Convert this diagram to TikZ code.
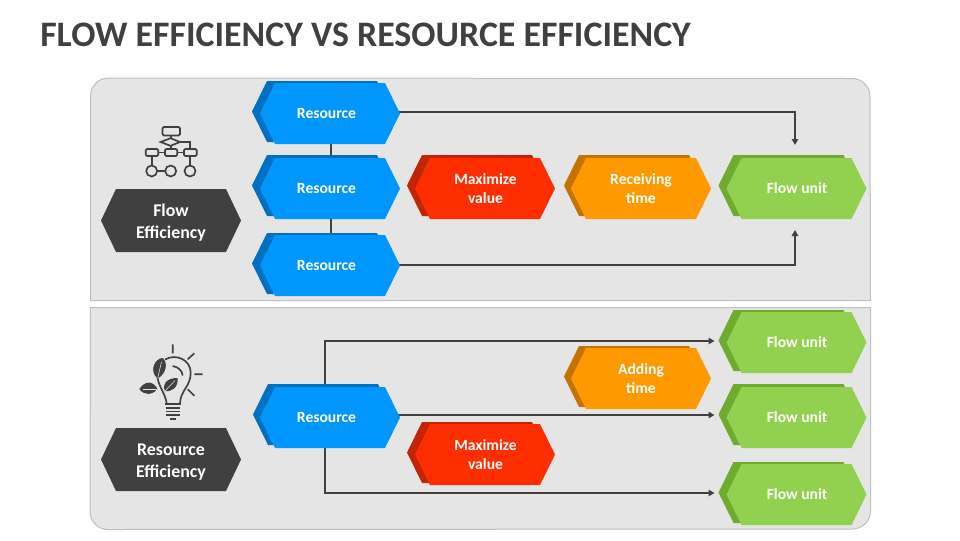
\documentclass[tikz,border=0pt]{standalone}
\usepackage{fontspec}
\setmainfont{Carlito}
\usetikzlibrary{arrows.meta}
\definecolor{panel}{HTML}{E5E5E5}
\definecolor{panelline}{HTML}{BFBFBF}
\definecolor{ink}{HTML}{404040}
\definecolor{blueF}{HTML}{0096FF}
\definecolor{blueB}{HTML}{0070C0}
\definecolor{redF}{HTML}{FF2E00}
\definecolor{redB}{HTML}{C02505}
\definecolor{orF}{HTML}{FF9900}
\definecolor{orB}{HTML}{C47300}
\definecolor{grF}{HTML}{92D050}
\definecolor{grB}{HTML}{6FAB2F}
\pgfdeclarelayer{panels}
\pgfdeclarelayer{lines}
\pgfsetlayers{panels,lines,main}
\tikzset{
  x=0.75pt,y=-0.75pt,
  lab/.style={rectangle,minimum width=105pt,minimum height=45.75pt,inner sep=0pt,text=white,align=center,font=\fontsize{11.7pt}{14.4pt}\selectfont\bfseries},
  labdark/.style={lab,font=\fontsize{13.4pt}{16pt}\selectfont\bfseries},
  flowline/.style={draw=ink,line width=1.6pt},
  arrowline/.style={flowline,-{Triangle[length=4.5pt,width=4.8pt]}},
  panelbox/.style={fill=panel,draw=panelline,line width=0.75pt},
  icon/.style={draw=ink,line width=1.25pt,fill=none},
  iconfill/.style={fill=ink,draw=none},
  vein/.style={draw=panel,line width=0.4pt}
}
\newcommand{\rsc}{\raisebox{-0.6pt}{Resource}}
% \hexa{name}{cx}{cy}{front}{back}{dx}{dy}{text dx}{text}
\newcommand{\hexa}[9]{%
  \fill[#5] (#2-70+#6,#3+#7) -- (#2-55+#6,#3-30.5+#7) -- (#2+55+#6,#3-30.5+#7) -- (#2+70+#6,#3+#7) -- (#2+55+#6,#3+30.5+#7) -- (#2-55+#6,#3+30.5+#7) -- cycle;
  \fill[#4] (#2-70,#3) -- (#2-55,#3-30.5) -- (#2+55,#3-30.5) -- (#2+70,#3) -- (#2+55,#3+30.5) -- (#2-55,#3+30.5) -- cycle;
  \node[lab] (#1) at (#2+#8,#3) {#9};%
}
% \darkhex{name}{cx}{cy}{text dy}{text}
\newcommand{\darkhex}[5]{%
  \fill[ink] (#2-70,#3) -- (#2-55,#3-31.5) -- (#2+55,#3-31.5) -- (#2+70,#3) -- (#2+55,#3+31.5) -- (#2-55,#3+31.5) -- cycle;
  \node[labdark] (#1) at (#2,#3+#4) {#5};%
}
\begin{document}
\begin{tikzpicture}
\useasboundingbox (0,0) rectangle (960,540);
\begin{pgfonlayer}{panels}
\fill[white] (0,0) rectangle (960,540);
\draw[panelbox] (90.5,300.5) -- (90.5,96) arc[start angle=180,end angle=90,x radius=18,y radius=-18] -- (852,78.5) arc[start angle=90,end angle=0,x radius=18,y radius=-18] -- (870.5,300.5) -- cycle;
\draw[panelbox] (90.5,307.5) -- (870.5,307.5) -- (870.5,511) arc[start angle=0,end angle=-90,x radius=18,y radius=-18] -- (108,529.5) arc[start angle=-90,end angle=-180,x radius=18,y radius=-18] -- cycle;
\end{pgfonlayer}
\node[anchor=west,inner sep=0pt,text=ink,font=\fontsize{26.9pt}{30pt}\selectfont\bfseries] (title) at (40,34.5) {FLOW EFFICIENCY VS RESOURCE EFFICIENCY};
% hexagons
\hexa{r1}{330}{113.5}{blueF}{blueB}{-8}{-2}{-3.5}{\rsc}
\hexa{r2}{330}{188.5}{blueF}{blueB}{-8}{-3}{-3.5}{Resource}
\hexa{r3}{330}{265.5}{blueF}{blueB}{-8}{-2}{-3.5}{\rsc}
\hexa{m1}{485}{188.5}{redF}{redB}{-8}{-3}{0.5}{Maximize\\value}
\hexa{o1}{641}{188.5}{orF}{orB}{-7}{-3}{0}{Receiving\\time}
\hexa{f1}{796.5}{188.5}{grF}{grB}{-8}{-3}{0.5}{Flow unit}
\hexa{rb}{330}{417.5}{blueF}{blueB}{-7}{-3}{-3.5}{\rsc}
\hexa{o2}{641}{378.5}{orF}{orB}{-7}{-2}{0}{Adding\\time}
\hexa{m2}{485}{454.5}{redF}{redB}{-8}{-2}{0.5}{Maximize\\value}
\hexa{f2}{796.5}{342.5}{grF}{grB}{-8}{-2}{0.5}{Flow unit}
\hexa{f3}{796.5}{417.5}{grF}{grB}{-8}{-3}{0.5}{Flow unit}
\hexa{f4}{796.5}{494.5}{grF}{grB}{-8}{-2}{0.5}{Flow unit}
\darkhex{d1}{171}{220.5}{2}{Flow\\Efficiency}
\darkhex{d2}{171}{459.5}{2.5}{Resource\\Efficiency}
% connectors
\coordinate (k1) at (795,112);
\coordinate (tA) at (795,145);
\coordinate (k3) at (795,265);
\coordinate (tB) at (795,230);
\coordinate (vx) at (331,0);
\coordinate (bT) at (325,341);
\coordinate (bM) at (714.5,415);
\coordinate (bB) at (325,493);
\coordinate (eT) at (714.5,341);
\coordinate (eB) at (714.5,493);
\begin{pgfonlayer}{lines}
\draw[arrowline] (r1.east |- k1) -- (k1) -- (tA);
\draw[arrowline] (r3.east |- k3) -- (k3) -- (tB);
\draw[flowline] (vx |- r1.south) -- (vx |- r2.north);
\draw[flowline] (vx |- r2.south) -- (vx |- r3.north);
\draw[arrowline] (rb.north -| bT) -- (bT) -- (eT);
\draw[arrowline] (rb.east |- bM) -- (bM);
\draw[arrowline] (rb.south -| bB) -- (bB) -- (eB);
\end{pgfonlayer}
% flowchart icon
\draw[icon,rounded corners=1pt] (162.5,127) rectangle (180,135.5);
\draw[icon] (160.7,142) -- (170.5,138.2) -- (180,142) -- (170.5,145.8) -- cycle;
\draw[icon,rounded corners=1pt] (145.7,149) rectangle (158.3,156);
\draw[icon,rounded corners=1pt] (165,149) rectangle (177.3,156);
\draw[icon,rounded corners=1pt] (184,149) rectangle (196.7,156);
\draw[icon] (171,135.5) -- (171,138.2) (171,145.8) -- (171,149);
\draw[icon] (180,142) -- (190,142) -- (190,149);
\draw[icon] (158.3,152.5) -- (165,152.5) (177.3,152.5) -- (184,152.5);
\draw[icon] (151.7,156) -- (151.7,165.5) (190,156) -- (190,165.5);
\draw[icon] (157.2,171) -- (165.2,171);
\draw[icon] (151.7,171) circle[radius=5.5];
\draw[icon] (170.7,171) circle[radius=5.5];
\draw[icon] (190,171) circle[radius=5.5];
% bulb icon
\draw[icon] (172.7,344.3) -- (172.7,353.3) (187.7,359.3) -- (194.3,353.3) (194.3,374.3) -- (202.7,374.3) (187.7,389.3) -- (194.3,395.7);
\draw[icon] (166.7,403.3) .. controls (165,393) and (160,389) .. (157.5,378);
\draw[icon] (165,359.5) .. controls (176,353) and (191,360) .. (190.7,373) .. controls (190.5,387) and (180.5,390) .. (180,403.3);
\draw[icon] (172.7,366) .. controls (178,367) and (182,370) .. (182.7,375.5);
\draw[icon] (165,403.8) -- (181,403.8);
\draw[icon,line width=1.4pt] (165.5,408) -- (180,408) (165.5,411.5) -- (180,411.5) (165.5,415) -- (180,415);
\draw[icon,line width=1.2pt] (170,418.8) -- (176,418.8);
\fill[iconfill] (162.7,358) .. controls (154,358.5) and (149,372) .. (157.7,378.5) .. controls (166,374) and (168.5,363) .. (162.7,358) -- cycle;
\draw[vein] (161.5,362) -- (157.7,378);
\fill[iconfill] (139.3,389) .. controls (145,380.5) and (153,380.5) .. (157.5,389) .. controls (152,395.5) and (144,395.5) .. (139.3,389) -- cycle;
\draw[vein] (143,389) -- (157,389);
\fill[iconfill] (177.5,378) .. controls (167,378) and (161.5,384) .. (165,391) .. controls (172.5,392) and (178.5,387) .. (177.5,378) -- cycle;
\draw[vein] (175,380.5) -- (165,391);
\end{tikzpicture}
\end{document}
